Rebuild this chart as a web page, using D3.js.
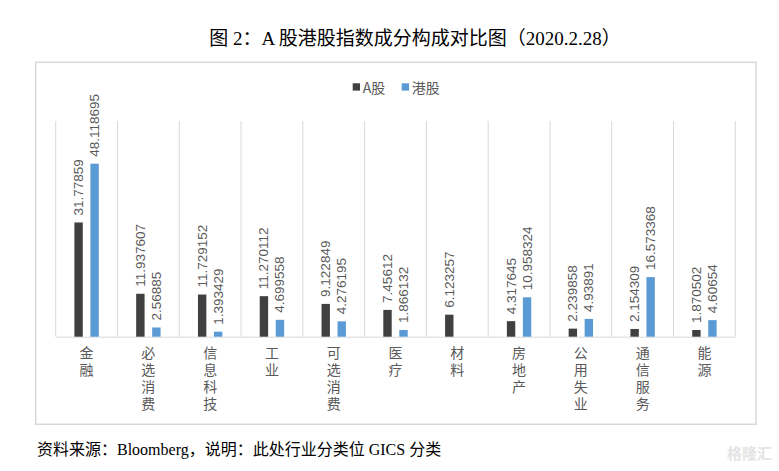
<!DOCTYPE html>
<html>
<head>
<meta charset="utf-8">
<script src="https://cdn.jsdelivr.net/npm/d3@7"></script>
<style>
  body { margin: 0; background: #fff; }
  svg { display: block; }
</style>
</head>
<body>
<script>
// Constantes del gráfico
const WIDTH = 779;
const HEIGHT = 471;
const PLOT = { left: 55.7, right: 735.3, top: 121, bottom: 336.7 };

// Datos
const categorias = ["金融", "必选消费", "信息科技", "工业", "可选消费", "医疗", "材料", "房地产", "公用失业", "通信服务", "能源"];
const series = ["A股", "港股"];
const valoresA = [31.77859, 11.937607, 11.729152, 11.270112, 9.122849, 7.45612, 6.123257, 4.317645, 2.239858, 2.154309, 1.870502];
const valoresHK = [48.118695, 2.56885, 1.393429, 4.699558, 4.276195, 1.866132, null, 10.958324, 4.93891, 16.573368, 4.60654];
const colores = ["#404040", "#5b9bd5"];

const titulo = "图 2：A 股港股指数成分构成对比图（2020.2.28）";
const pie = "资料来源：Bloomberg，说明：此处行业分类位 GICS 分类";

const svg = d3.select("body").append("svg")
  .attr("width", WIDTH)
  .attr("height", HEIGHT);

const serif = "'Liberation Serif', 'Noto Sans CJK SC', serif";
const sans = "'Liberation Sans', 'Noto Sans CJK SC', sans-serif";
const cjk = "'Noto Sans CJK SC', sans-serif";

// Título
svg.append("text")
  .attr("x", 415).attr("y", 38)
  .attr("text-anchor", "middle")
  .attr("dominant-baseline", "central")
  .attr("font-family", serif)
  .attr("font-size", 19)
  .attr("fill", "#000")
  .text(titulo);

// Marco del gráfico
svg.append("rect")
  .attr("x", 35.7).attr("y", 62.3)
  .attr("width", 756 - 35.7).attr("height", 424.3 - 62.3)
  .attr("fill", "#fff")
  .attr("stroke", "#d9d9d9")
  .attr("stroke-width", 1.5);

// Escalas
const escalaX = d3.scaleBand()
  .domain(categorias)
  .range([PLOT.left, PLOT.right])
  .padding(0);

const bw = escalaX.bandwidth();
const escalaSerie = d3.scaleBand()
  .domain(series)
  .range([bw / 2 - 12.2, bw / 2 + 12.2])
  .paddingInner(0.475);

const escalaY = d3.scaleLinear()
  .domain([0, 60])
  .range([PLOT.bottom, PLOT.top]);

// Líneas verticales de cuadrícula (bordes de cada categoría)
const bordes = categorias.map(c => escalaX(c)).concat([PLOT.right]);
svg.append("g")
  .selectAll("line")
  .data(bordes)
  .join("line")
  .attr("x1", d => d).attr("x2", d => d)
  .attr("y1", escalaY(60)).attr("y2", escalaY(0))
  .attr("stroke", "#d9d9d9")
  .attr("stroke-width", 1);

// Eje X
const ejeX = d3.axisBottom(escalaX).tickSize(0).tickFormat("");
svg.append("g")
  .attr("transform", `translate(0, ${escalaY(0)})`)
  .call(ejeX)
  .call(g => g.select(".domain").attr("stroke", "#d9d9d9").attr("stroke-width", 1));

// Datos combinados
const datos = [];
categorias.forEach((c, i) => {
  datos.push({ cat: c, serie: "A股", valor: valoresA[i], color: colores[0] });
  if (valoresHK[i] !== null) {
    datos.push({ cat: c, serie: "港股", valor: valoresHK[i], color: colores[1] });
  }
});

const contenedorVis = svg.append("g");

contenedorVis.selectAll("rect")
  .data(datos)
  .join("rect")
  .attr("x", d => escalaX(d.cat) + escalaSerie(d.serie))
  .attr("y", d => escalaY(d.valor))
  .attr("width", escalaSerie.bandwidth())
  .attr("height", d => escalaY(0) - escalaY(d.valor))
  .attr("fill", d => d.color);

// Etiquetas de valores, rotadas
contenedorVis.selectAll("text")
  .data(datos)
  .join("text")
  .attr("transform", d => {
    const cx = escalaX(d.cat) + escalaSerie(d.serie) + escalaSerie.bandwidth() / 2;
    return `translate(${cx}, ${escalaY(d.valor) - 7}) rotate(-90)`;
  })
  .attr("text-anchor", "start")
  .attr("dominant-baseline", "central")
  .attr("font-family", sans)
  .attr("font-size", 13.5)
  .attr("fill", "#595959")
  .text(d => d.valor);

// Etiquetas de categoría en vertical (escritura vertical)
svg.append("g")
  .selectAll("text")
  .data(categorias)
  .join("text")
  .attr("x", d => escalaX(d) + bw / 2)
  .attr("y", 346)
  .style("writing-mode", "vertical-rl")
  .attr("letter-spacing", 3)
  .attr("font-family", cjk)
  .attr("font-size", 14)
  .attr("fill", "#595959")
  .attr("text-anchor", "start")
  .text(d => d);

// Leyenda
const leyenda = svg.append("g");
const posLeyenda = [352.7, 401.7];
series.forEach((s, i) => {
  leyenda.append("rect")
    .attr("x", posLeyenda[i]).attr("y", 83.3)
    .attr("width", 7.3).attr("height", 7.3)
    .attr("fill", colores[i]);
  leyenda.append("text")
    .attr("x", posLeyenda[i] + 10).attr("y", 87)
    .attr("dominant-baseline", "central")
    .attr("font-family", cjk)
    .attr("font-size", 14)
    .attr("fill", "#595959")
    .text(s);
});

// Pie de figura
svg.append("text")
  .attr("x", 37).attr("y", 449)
  .attr("dominant-baseline", "central")
  .attr("font-family", serif)
  .attr("font-size", 16)
  .attr("fill", "#000")
  .text(pie);

// Marca de agua
svg.append("text")
  .attr("x", 772).attr("y", 452)
  .attr("text-anchor", "end")
  .attr("dominant-baseline", "central")
  .attr("font-family", cjk)
  .attr("font-size", 15)
  .attr("font-weight", "bold")
  .attr("fill", "#e4e4e4")
  .text("格隆汇");
</script>
</body>
</html>
